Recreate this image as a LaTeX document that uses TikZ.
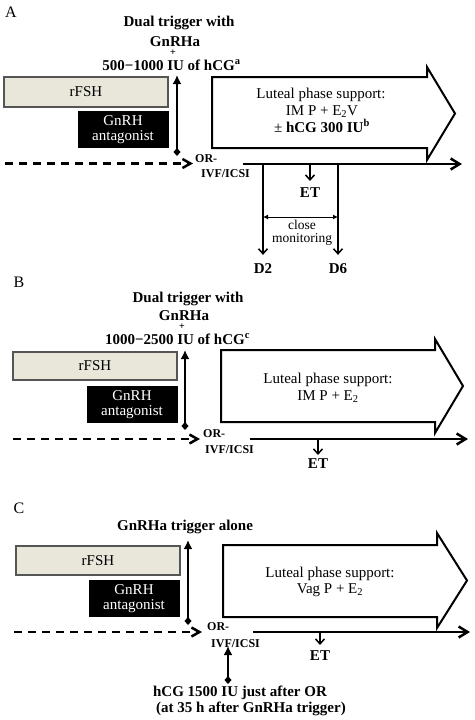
\documentclass[tikz,border=0pt]{standalone}
\usepackage{fontspec}
\setmainfont{Liberation Serif}
\usetikzlibrary{arrows.meta}
\definecolor{fshgray}{RGB}{233,231,218}
\definecolor{boxline}{RGB}{85,85,85}

\tikzset{
	lbl/.style={anchor=base,inner sep=0pt,font=\fontsize{15}{15}\selectfont},
	boldlbl/.style={lbl,font=\fontsize{15}{15}\selectfont\bfseries},
	panel/.style={lbl,font=\fontsize{16}{16}\selectfont},
	pluslbl/.style={inner sep=0pt,font=\fontsize{10}{10}\selectfont\bfseries},
	orlbl/.style={anchor=base west,inner sep=0pt,font=\fontsize{12}{12}\selectfont\bfseries},
	fsh/.style={draw=boxline,fill=fshgray,line width=1.2pt,minimum width=164pt,font=\fontsize{15}{15}\selectfont},
	antag/.style={fill=black,text=white,align=center,minimum width=91pt,minimum height=37pt,font=\fontsize{15}{15}\selectfont},
	support/.style={draw=black,line width=2pt,fill=white,line join=miter},
	trig/.style={line width=2.5pt,{Diamond[length=8pt,width=7pt]}-{Latex[length=9pt,width=9pt]}},
	timeline/.style={line width=2.5pt,-{Straight Barb[length=9pt,width=11pt]}},
	preline/.style={line width=2.5pt,dash pattern=on 8pt off 6pt,-{Straight Barb[length=8pt,width=9pt]}},
	etarrow/.style={line width=1.5pt,-{Straight Barb[length=5pt,width=9pt]}}
}

\begin{document}
\begin{tikzpicture}[x=1pt,y=-1pt]
\useasboundingbox (0,0) rectangle (474,720);

% panel A
\node[panel] (A) at (11,17) {A};
\node[boldlbl] (dualA) at (179,27) {Dual trigger with};
\node[boldlbl] (gnrhaA) at (175,46) {GnRHa};
\node[pluslbl] (plusA) at (173,53) {+};
\node[boldlbl] (hcgA) at (171.5,70) {500−1000 IU of hCG\textsuperscript{a}};
\node[fsh,minimum height=30pt] (fshA) at (86,92) {rFSH};
\node[antag] (antA) at (123,129.5) {GnRH\\antagonist};
\draw[support] (212,77) -- (427,77) -- (427,67) -- (455,113.5) -- (427,160) -- (427,148) -- (212,148) -- cycle;
\node[lbl] (lpsA) at (321,98) {Luteal phase support:};
\node[lbl] (drugA) at (322,115) {IM P + E\textsubscript{2}V};
\node[lbl] (hcgsupA) at (322,132) {± \textbf{hCG 300 IU\textsuperscript{b}}};
\coordinate (trigAbot) at (177,156);
\coordinate (trigAtop) at (177,75);
\draw[trig] (trigAbot) -- (trigAtop);
\coordinate (preA) at (5,163.5);
\coordinate (preAend) at (193,163.5);
\draw[preline] (preA) -- (preAend);
\node[orlbl] (orA) at (195,162) {OR-};
\node[orlbl] (ivfA) at (201,177) {IVF/ICSI};
\coordinate (tlA) at (243,164);
\coordinate (tlAend) at (462,164);
\draw[timeline] (tlA) -- (tlAend);
\node[boldlbl,inner sep=6pt] (etA) at (310,197) {ET};
\draw[etarrow] (310,164) coordinate (etAtop) -- (etA);
\node[boldlbl,inner sep=8pt] (dtwo) at (263,273) {D2};
\node[boldlbl,inner sep=8pt] (dsix) at (338,273) {D6};
\coordinate (dtwoTop) at (263,164);
\coordinate (dsixTop) at (338,164);
\draw[etarrow] (dtwoTop) -- (dtwo);
\draw[etarrow] (dsixTop) -- (dsix);
\coordinate (cmL) at (263,217);
\coordinate (cmR) at (338,217);
\draw[line width=1pt,{Latex[length=5pt,width=5pt]}-{Latex[length=5pt,width=5pt]}] (cmL) -- (cmR);
\node[lbl,font=\fontsize{13.5}{13.5}\selectfont] (closeA) at (302,229) {close};
\node[lbl,font=\fontsize{13.5}{13.5}\selectfont] (monA) at (302,242.5) {monitoring};

% panel B
\node[panel] (B) at (19,287) {B};
\node[boldlbl] (dualB) at (188,302) {Dual trigger with};
\node[boldlbl] (gnrhaB) at (184,320) {GnRHa};
\node[pluslbl] (plusB) at (182,327) {+};
\node[boldlbl] (hcgB) at (177.5,344) {1000−2500 IU of hCG\textsuperscript{c}};
\node[fsh,minimum height=28pt] (fshB) at (95,366) {rFSH};
\node[antag] (antB) at (132,404.5) {GnRH\\antagonist};
\draw[support] (221,350) -- (435,350) -- (435,339) -- (463,386) -- (435,433) -- (435,422) -- (221,422) -- cycle;
\node[lbl] (lpsB) at (328,383) {Luteal phase support:};
\node[lbl] (drugB) at (328,400) {IM P + E\textsubscript{2}};
\coordinate (trigBbot) at (185,430);
\coordinate (trigBtop) at (185,350);
\draw[trig] (trigBbot) -- (trigBtop);
\coordinate (preB) at (13,439);
\coordinate (preBend) at (200,439);
\draw[preline] (preB) -- (preBend);
\node[orlbl] (orB) at (203,437) {OR-};
\node[orlbl] (ivfB) at (205,453) {IVF/ICSI};
\coordinate (tlB) at (250,439);
\coordinate (tlBend) at (468,439);
\draw[timeline] (tlB) -- (tlBend);
\node[boldlbl,inner sep=3pt] (etB) at (318,468) {ET};
\draw[etarrow] (318,439) coordinate (etBtop) -- (etB);

% panel C
\node[panel] (C) at (19,513) {C};
\node[boldlbl] (aloneC) at (185,530) {GnRHa trigger alone};
\node[fsh,minimum height=29pt] (fshC) at (98,560.5) {rFSH};
\node[antag] (antC) at (134,598.5) {GnRH\\antagonist};
\draw[support] (223,545) -- (437,545) -- (437,533) -- (467,580.5) -- (437,628) -- (437,617) -- (223,617) -- cycle;
\node[lbl] (lpsC) at (330,577) {Luteal phase support:};
\node[lbl] (drugC) at (330,593) {Vag P + E\textsubscript{2}};
\coordinate (trigCbot) at (188,625);
\coordinate (trigCtop) at (188,540);
\draw[trig] (trigCbot) -- (trigCtop);
\coordinate (preC) at (14,632);
\coordinate (preCend) at (202,632);
\draw[preline] (preC) -- (preCend);
\node[orlbl] (orC) at (207,630) {OR-};
\node[orlbl] (ivfC) at (211,647) {IVF/ICSI};
\coordinate (tlC) at (253,632);
\coordinate (tlCend) at (470,632);
\draw[timeline] (tlC) -- (tlCend);
\node[boldlbl,inner sep=5pt] (etC) at (320,660) {ET};
\draw[etarrow] (320,632) coordinate (etCtop) -- (etC);
\coordinate (boostBot) at (228,684);
\coordinate (boostTop) at (228,646);
\draw[trig] (boostBot) -- (boostTop);
\node[boldlbl] (boostA) at (240,696) {hCG 1500 IU just after OR};
\node[boldlbl] (boostB) at (251,712) {(at 35 h after GnRHa trigger)};

\end{tikzpicture}
\end{document}
